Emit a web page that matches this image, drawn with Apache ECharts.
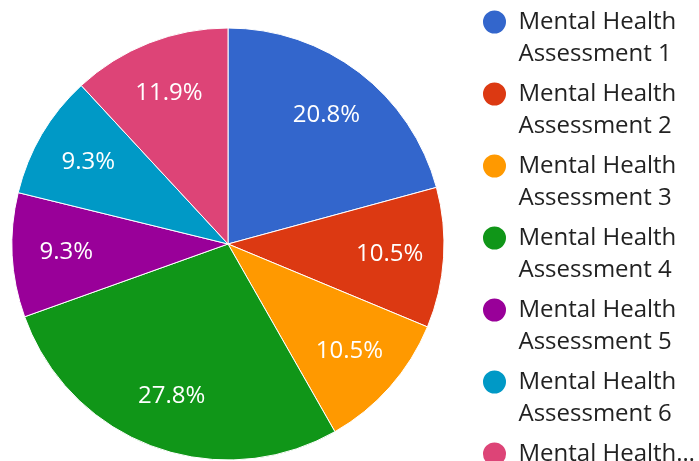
<!DOCTYPE html>
<html>
<head>
<meta charset="utf-8">
<script src="https://cdn.jsdelivr.net/npm/echarts@6/dist/echarts.min.js"></script>
<style>
  html, body { margin: 0; padding: 0; background: #fff; }
  #main { width: 699px; height: 461px; }
</style>
</head>
<body>
<div id="main"></div>
<script>
// data (percent of total)
var names = [
  "Mental Health Assessment 1",
  "Mental Health Assessment 2",
  "Mental Health Assessment 3",
  "Mental Health Assessment 4",
  "Mental Health Assessment 5",
  "Mental Health Assessment 6",
  "Mental Health Assessment 7"
];
var values = [20.8, 10.5, 10.5, 27.8, 9.3, 9.3, 11.9];
var colors = ["#3366cc", "#dc3912", "#ff9900", "#109618", "#990099", "#0099c6", "#dd4477"];

var pieData = names.map(function (n, i) {
  return { name: n, value: values[i] };
});

var myChart = echarts.init(document.getElementById("main"));
myChart.setOption({
  animation: false,
  color: colors,
  textStyle: { fontFamily: "Open Sans" },
  legend: {
    orient: "vertical",
    left: 481,
    top: -26,
    height: 700,
    padding: 0,
    icon: "circle",
    itemWidth: 30,
    itemHeight: 25,
    itemGap: -24,
    data: names,
    formatter: function (name) {
      var idx = names.indexOf(name);
      // last entry is cut off at the bottom edge, as in the original
      if (idx === names.length - 1) {
        return " \nMental Health…\n ";
      }
      return " \nMental Health\n" + name.replace("Mental Health ", "");
    },
    textStyle: {
      fontFamily: "Open Sans",
      fontSize: 24,
      lineHeight: 32,
      color: "#222222",
      padding: [0, 0, 0, 4]
    }
  },
  series: [
    {
      name: "pie",
      type: "pie",
      center: [228, 244],
      radius: [0, 216],
      startAngle: 90,
      clockwise: true,
      label: { show: false },
      labelLine: { show: false },
      itemStyle: { borderColor: "#ffffff", borderWidth: 1 },
      emphasis: { disabled: true },
      data: pieData
    },
    {
      // transparent ring used only to place the percent labels further out
      name: "labels",
      type: "pie",
      center: [228, 244],
      radius: [104, 214],
      startAngle: 90,
      clockwise: true,
      silent: true,
      itemStyle: { color: "rgba(0,0,0,0)" },
      label: {
        show: true,
        position: "inside",
        formatter: function (p) {
          return p.percent.toFixed(1) + "%";
        },
        color: "#ffffff",
        fontFamily: "Open Sans",
        fontSize: 24
      },
      labelLine: { show: false },
      emphasis: { disabled: true },
      data: pieData
    }
  ]
});
</script>
</body>
</html>
